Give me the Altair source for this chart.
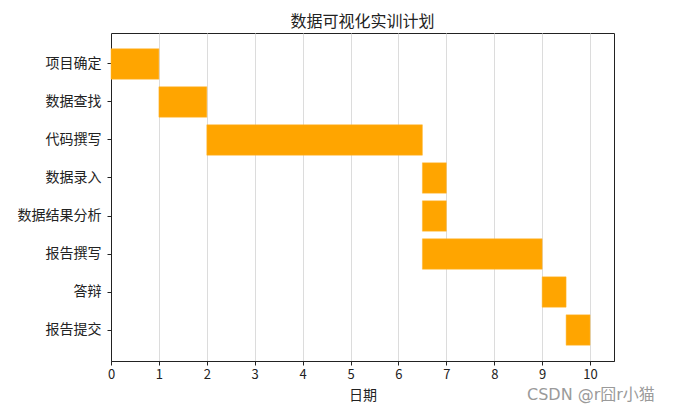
import altair as alt
import pandas as pd

tasks = ["项目确定", "数据查找", "代码撰写", "数据录入", "数据结果分析", "报告撰写", "答辩", "报告提交"]
starts = [0, 1, 2, 6.5, 6.5, 6.5, 9, 9.5]
ends = [1, 2, 6.5, 7, 7, 9, 9.5, 10]
x_ticks = [0, 1, 2, 3, 4, 5, 6, 7, 8, 9, 10]
title_text = "数据可视化实训计划"
x_title = "日期"
watermark = "CSDN @r囧r小猫"

FONT = "Noto Sans CJK SC"

df = pd.DataFrame({"task": tasks, "start": starts, "end": ends})

bars = alt.Chart(df).mark_bar(color="#FFA500", stroke="#FFB733", strokeWidth=0.5).encode(
    y=alt.Y("task:N", sort=tasks, title=None,
            scale=alt.Scale(paddingInner=0.2, paddingOuter=0.415),
            axis=alt.Axis(labelFontSize=14, labelFont=FONT, labelColor="#222",
                          tickSize=4, tickColor="#222", labelPadding=6,
                          domainColor="#222", grid=False)),
    x=alt.X("start:Q", title=x_title,
            scale=alt.Scale(domain=[0, 10.5], nice=False, zero=False),
            axis=alt.Axis(values=x_ticks, format="d", labelFontSize=13, labelFont=FONT,
                          labelColor="#222", tickSize=4, tickColor="#222", labelPadding=3,
                          labelFlush=False,
                          domainColor="#222", grid=True, gridColor="#dcdcdc",
                          titleFont=FONT, titleFontSize=14, titleFontWeight="normal",
                          titleColor="#222", titlePadding=7)),
    x2="end:Q",
)

wm = alt.Chart(pd.DataFrame({"t": [watermark]})).mark_text(
    align="left", baseline="middle", fontSize=16, font="DejaVu Sans, Noto Sans CJK SC",
    color="#9a9a9a"
).encode(text="t:N", x=alt.value(416), y=alt.value(362))

chart = alt.layer(bars, wm).properties(
    width=503, height=328,
    title=alt.TitleParams(title_text, font=FONT, fontSize=16, fontWeight="normal",
                          color="#222", offset=3),
    autosize=alt.AutoSizeParams(type="none"),
    padding={"left": 103, "top": 25, "right": 57, "bottom": 43},
).configure_view(stroke="#222", strokeWidth=1)

chart.save("out.html", embed_options={"renderer": "svg", "actions": False})
